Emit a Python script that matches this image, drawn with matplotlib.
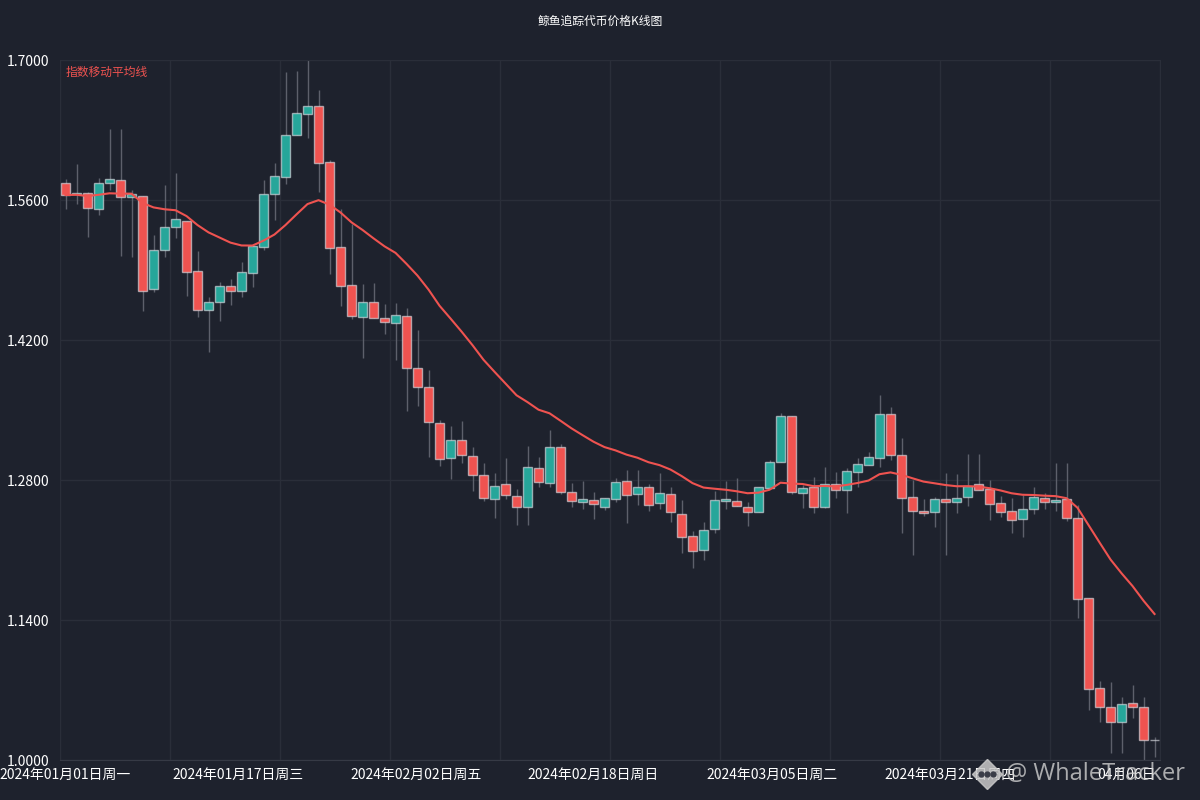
import numpy as np
import pandas as pd
import matplotlib
matplotlib.use('Agg')
import matplotlib.pyplot as plt
from matplotlib.lines import Line2D

plt.rcParams['font.family'] = ['Noto Sans CJK SC', 'DejaVu Sans']

# 日K数据 (开 高 低 收)
opens = [1.5767, 1.5660, 1.5673, 1.5510, 1.5767, 1.5803, 1.5633, 1.5643, 1.4707, 1.5097,
         1.5330, 1.5393, 1.4890, 1.4497, 1.4577, 1.4740, 1.4690, 1.4867, 1.5130, 1.5663,
         1.5830, 1.6253, 1.6457, 1.6543, 1.5977, 1.5127, 1.4747, 1.4430, 1.4577, 1.4417,
         1.4373, 1.4443, 1.3923, 1.3727, 1.3370, 1.3017, 1.3200, 1.3040, 1.2850, 1.2610,
         1.2760, 1.2643, 1.2533, 1.2923, 1.2770, 1.3127, 1.2677, 1.2583, 1.2603, 1.2527,
         1.2610, 1.2790, 1.2657, 1.2727, 1.2567, 1.2663, 1.2457, 1.2237, 1.2097, 1.2307,
         1.2590, 1.2593, 1.2533, 1.2483, 1.2717, 1.2977, 1.3440, 1.2670, 1.2733, 1.2533,
         1.2757, 1.2700, 1.2877, 1.2947, 1.3020, 1.3460, 1.3047, 1.2627, 1.2493, 1.2477,
         1.2607, 1.2577, 1.2630, 1.2757, 1.2707, 1.2567, 1.2490, 1.2407, 1.2510, 1.2617,
         1.2577, 1.2607, 1.2423, 1.1617, 1.0717, 1.0530, 1.0377, 1.0567, 1.0533, 1.0200]
highs = [1.5810, 1.5960, 1.5680, 1.5820, 1.6310, 1.6310, 1.5700, 1.5643, 1.5250, 1.5750,
         1.5870, 1.5393, 1.5090, 1.4630, 1.4777, 1.4813, 1.4980, 1.5160, 1.5800, 1.5970,
         1.6883, 1.6893, 1.7000, 1.6703, 1.6000, 1.5510, 1.5360, 1.4760, 1.4770, 1.4560,
         1.4570, 1.4523, 1.4300, 1.3900, 1.3397, 1.3340, 1.3390, 1.3133, 1.2973, 1.2870,
         1.3017, 1.2710, 1.3143, 1.3027, 1.3300, 1.3160, 1.2773, 1.2790, 1.2683, 1.2620,
         1.2817, 1.2900, 1.2900, 1.2760, 1.2867, 1.2733, 1.2600, 1.2290, 1.2383, 1.2690,
         1.2790, 1.2823, 1.2583, 1.2727, 1.3000, 1.3467, 1.3440, 1.2750, 1.2833, 1.2933,
         1.2877, 1.2920, 1.3017, 1.3083, 1.3650, 1.3530, 1.3217, 1.2800, 1.2610, 1.2633,
         1.2867, 1.2857, 1.3060, 1.3060, 1.2800, 1.2643, 1.2617, 1.2650, 1.2733, 1.2670,
         1.2967, 1.2967, 1.2550, 1.1617, 1.0790, 1.0783, 1.0633, 1.0750, 1.0633, 1.0233]
lows = [1.5510, 1.5560, 1.5233, 1.5453, 1.5700, 1.5043, 1.5033, 1.4493, 1.4683, 1.5033,
        1.5217, 1.4640, 1.4433, 1.4083, 1.4393, 1.4550, 1.4633, 1.4733, 1.5100, 1.5400,
        1.5763, 1.6253, 1.6217, 1.5683, 1.4857, 1.4543, 1.4410, 1.4020, 1.4420, 1.4260,
        1.4000, 1.3490, 1.3540, 1.3033, 1.2943, 1.2813, 1.2967, 1.2693, 1.2593, 1.2417,
        1.2610, 1.2350, 1.2350, 1.2733, 1.2733, 1.2660, 1.2530, 1.2507, 1.2410, 1.2500,
        1.2583, 1.2367, 1.2550, 1.2490, 1.2510, 1.2383, 1.2073, 1.1923, 1.2000, 1.2273,
        1.2510, 1.2543, 1.2343, 1.2483, 1.2717, 1.2977, 1.2657, 1.2517, 1.2473, 1.2517,
        1.2617, 1.2467, 1.2733, 1.2947, 1.2933, 1.3000, 1.2267, 1.2050, 1.2443, 1.2333,
        1.2050, 1.2467, 1.2543, 1.2700, 1.2400, 1.2433, 1.2273, 1.2233, 1.2457, 1.2510,
        1.2490, 1.2393, 1.1417, 1.0500, 1.0383, 1.0067, 1.0067, 1.0417, 1.0000, 1.0033]
closes = [1.5650, 1.5670, 1.5523, 1.5770, 1.5810, 1.5633, 1.5660, 1.4690, 1.5100, 1.5330,
          1.5407, 1.4883, 1.4497, 1.4580, 1.4737, 1.4687, 1.4877, 1.5137, 1.5663, 1.5837,
          1.6250, 1.6467, 1.6540, 1.5967, 1.5123, 1.4737, 1.4437, 1.4580, 1.4420, 1.4377,
          1.4450, 1.3917, 1.3727, 1.3377, 1.3010, 1.3200, 1.3047, 1.2850, 1.2617, 1.2740,
          1.2650, 1.2533, 1.2927, 1.2783, 1.3127, 1.2683, 1.2593, 1.2607, 1.2557, 1.2617,
          1.2783, 1.2650, 1.2727, 1.2553, 1.2673, 1.2483, 1.2230, 1.2090, 1.2303, 1.2603,
          1.2607, 1.2543, 1.2480, 1.2727, 1.2980, 1.3443, 1.2677, 1.2723, 1.2533, 1.2757,
          1.2697, 1.2887, 1.2957, 1.3027, 1.3460, 1.3047, 1.2620, 1.2490, 1.2470, 1.2607,
          1.2583, 1.2623, 1.2740, 1.2700, 1.2563, 1.2483, 1.2400, 1.2510, 1.2627, 1.2577,
          1.2597, 1.2423, 1.1607, 1.0707, 1.0527, 1.0383, 1.0560, 1.0527, 1.0197, 1.0200]

title = '鲸鱼追踪代币价格K线图'
ma_label = '指数移动平均线'
x_tick_pos = [0, 15.7, 31.9, 48.0, 64.2, 80.4, 96.5]
x_tick_labels = ['2024年01月01日周一', '2024年01月17日周三', '2024年02月02日周五',
                 '2024年02月18日周日', '2024年03月05日周二', '2024年03月21日周四',
                 '04月06日']
y_ticks = [1.00, 1.14, 1.28, 1.42, 1.56, 1.70]

BG = '#1e222d'
GRID = '#2a2e39'
UP = '#26a69a'
DOWN = '#ef5350'

o = np.array(opens)
h = np.array(highs)
l = np.array(lows)
c = np.array(closes)
x = np.arange(len(c))
ema = pd.Series(c).ewm(span=20, adjust=False).mean()

fig = plt.figure(figsize=(12, 8), dpi=100, facecolor=BG)
ax = fig.add_axes([0.05, 0.05, 0.9167, 0.875])
ax.set_facecolor(BG)

colors = np.where(c >= o, UP, DOWN)
ax.vlines(x, l, h, color='#5d606b', linewidth=1, zorder=2)
ax.bar(x, c - o, bottom=o, width=0.8, color=colors,
       edgecolor=(0.85, 0.86, 0.88, 0.65), linewidth=1, zorder=3)
ax.plot(x, ema, color=DOWN, linewidth=1.5, zorder=4)

ax.set_xlim(-0.5, 99.5)
ax.set_ylim(1.0, 1.7)
ax.set_yticks(y_ticks)
ax.set_yticklabels(['%.4f' % v for v in y_ticks])
ax.set_xticks(x_tick_pos)
ax.set_xticklabels(x_tick_labels)
ax.set_xticks(np.arange(-0.5, 100, 10), minor=True)
ax.tick_params(axis='both', which='both', length=0, colors='white', labelsize=10)
ax.tick_params(axis='x', pad=6)
ax.tick_params(axis='y', pad=8)
ax.grid(False)
ax.grid(True, axis='y', which='major', color=GRID, linewidth=1)
ax.grid(True, axis='x', which='minor', color=GRID, linewidth=1)
for s in ax.spines.values():
    s.set_color(GRID)
ax.spines['bottom'].set_color('#363a45')

ax.text(0.005, 0.983, ma_label, transform=ax.transAxes, color=DOWN,
        fontsize=8.5, ha='left', va='center')
fig.text(0.5, 1 - 21 / 800, title, color='white', fontsize=8.5,
         ha='center', va='center')

# 水印
wy = 1 - 774 / 800
fig.add_artist(Line2D([987 / 1200], [wy], marker='D', markersize=15,
                      color='#c8c8c8', alpha=0.85, transform=fig.transFigure))
fig.add_artist(Line2D([981 / 1200, 987 / 1200, 993 / 1200], [wy, wy, wy],
                      marker='o', markersize=3.5, linestyle='none',
                      color='#3a3d48', transform=fig.transFigure))
fig.text(1006 / 1200, wy, '@ WhaleTracker', color='#d0d0d0', alpha=0.8,
         fontsize=17, family=['Open Sans', 'DejaVu Sans'], ha='left', va='center')

fig.savefig('out.png', dpi=100, facecolor=BG)
